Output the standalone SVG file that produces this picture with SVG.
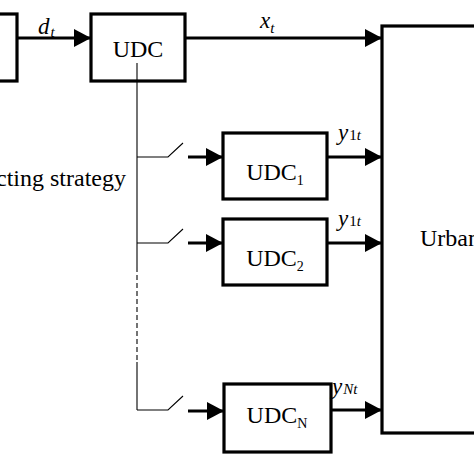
<svg xmlns="http://www.w3.org/2000/svg" width="474" height="474" viewBox="0 0 474 474">
<defs>
<style>
.box{fill:#fff;stroke:#000;stroke-width:3.2}
.thick{stroke:#000;stroke-width:3.2;fill:none}
.thin{stroke:#000;stroke-width:1.1;fill:none}
text{font-family:'Liberation Serif','Times New Roman','DejaVu Serif',serif;fill:#000}
.lbl{font-size:24px}
.it{font-style:italic;font-size:23px}
.sub{font-size:15px}
</style>
<marker id="ah" markerUnits="userSpaceOnUse" markerWidth="18" markerHeight="18" refX="17" refY="9" orient="auto">
<path d="M0,0 L17,9 L0,18 Z" fill="#000"/>
</marker>
</defs>
<rect width="474" height="474" fill="#fff"/>
<g id="source"><rect class="box" x="-10" y="14" width="27" height="67"/></g>
<g id="udc"><rect class="box" x="91" y="14" width="94" height="67"/><text class="lbl" x="138" y="57" text-anchor="middle">UDC</text></g>
<g id="udc1"><rect class="box" x="223" y="133" width="104" height="66"/><text class="lbl" x="275" y="180" text-anchor="middle">UDC<tspan font-size="14" dy="5">1</tspan></text></g>
<g id="udc2"><rect class="box" x="223" y="219" width="104" height="66"/><text class="lbl" x="275" y="266" text-anchor="middle">UDC<tspan font-size="14" dy="5">2</tspan></text></g>
<g id="udcn"><rect class="box" x="224" y="384" width="107" height="68"/><text class="lbl" x="277" y="423" text-anchor="middle">UDC<tspan font-size="14" dy="5">N</tspan></text></g>
<g id="urban"><rect class="box" x="382" y="26" width="110" height="407"/><text class="lbl" x="420" y="246">Urban</text></g>
<g id="strategy"><text class="lbl" x="126" y="186" text-anchor="end">cting strategy</text></g>
<g id="connectors">
<line class="thick" x1="17" y1="38" x2="91" y2="38" marker-end="url(#ah)"/>
<line class="thick" x1="185" y1="38" x2="382" y2="38" marker-end="url(#ah)"/>
<line class="thin" x1="137" y1="63" x2="137" y2="267"/>
<line class="thin" x1="137" y1="267" x2="137" y2="362" stroke-dasharray="5,3"/>
<line class="thin" x1="137" y1="362" x2="137" y2="410"/>
<polyline class="thin" points="137,157 168,157 183,143"/>
<polyline class="thin" points="137,243 168,243 183,229"/>
<polyline class="thin" points="137,410 168,410 183,396"/>
<line class="thick" x1="188" y1="157" x2="223" y2="157" marker-end="url(#ah)"/>
<line class="thick" x1="188" y1="243" x2="223" y2="243" marker-end="url(#ah)"/>
<line class="thick" x1="188" y1="411" x2="224" y2="411" marker-end="url(#ah)"/>
<line class="thick" x1="327" y1="157" x2="382" y2="157" marker-end="url(#ah)"/>
<line class="thick" x1="327" y1="243" x2="382" y2="243" marker-end="url(#ah)"/>
<line class="thick" x1="331" y1="410" x2="382" y2="410" marker-end="url(#ah)"/>
</g>
<g id="labels">
<text class="it" x="38" y="34">d<tspan class="sub" dx="1" dy="3">t</tspan></text>
<text class="it" x="260" y="28">x<tspan class="sub" dy="5">t</tspan></text>
<text class="it" x="338" y="140">y<tspan class="sub" font-style="normal" dx="1">1</tspan><tspan class="sub">t</tspan></text>
<text class="it" x="338" y="226">y<tspan class="sub" font-style="normal" dx="1">1</tspan><tspan class="sub">t</tspan></text>
<text class="it" x="332" y="394">y<tspan class="sub" dx="1">Nt</tspan></text>
</g>
</svg>
